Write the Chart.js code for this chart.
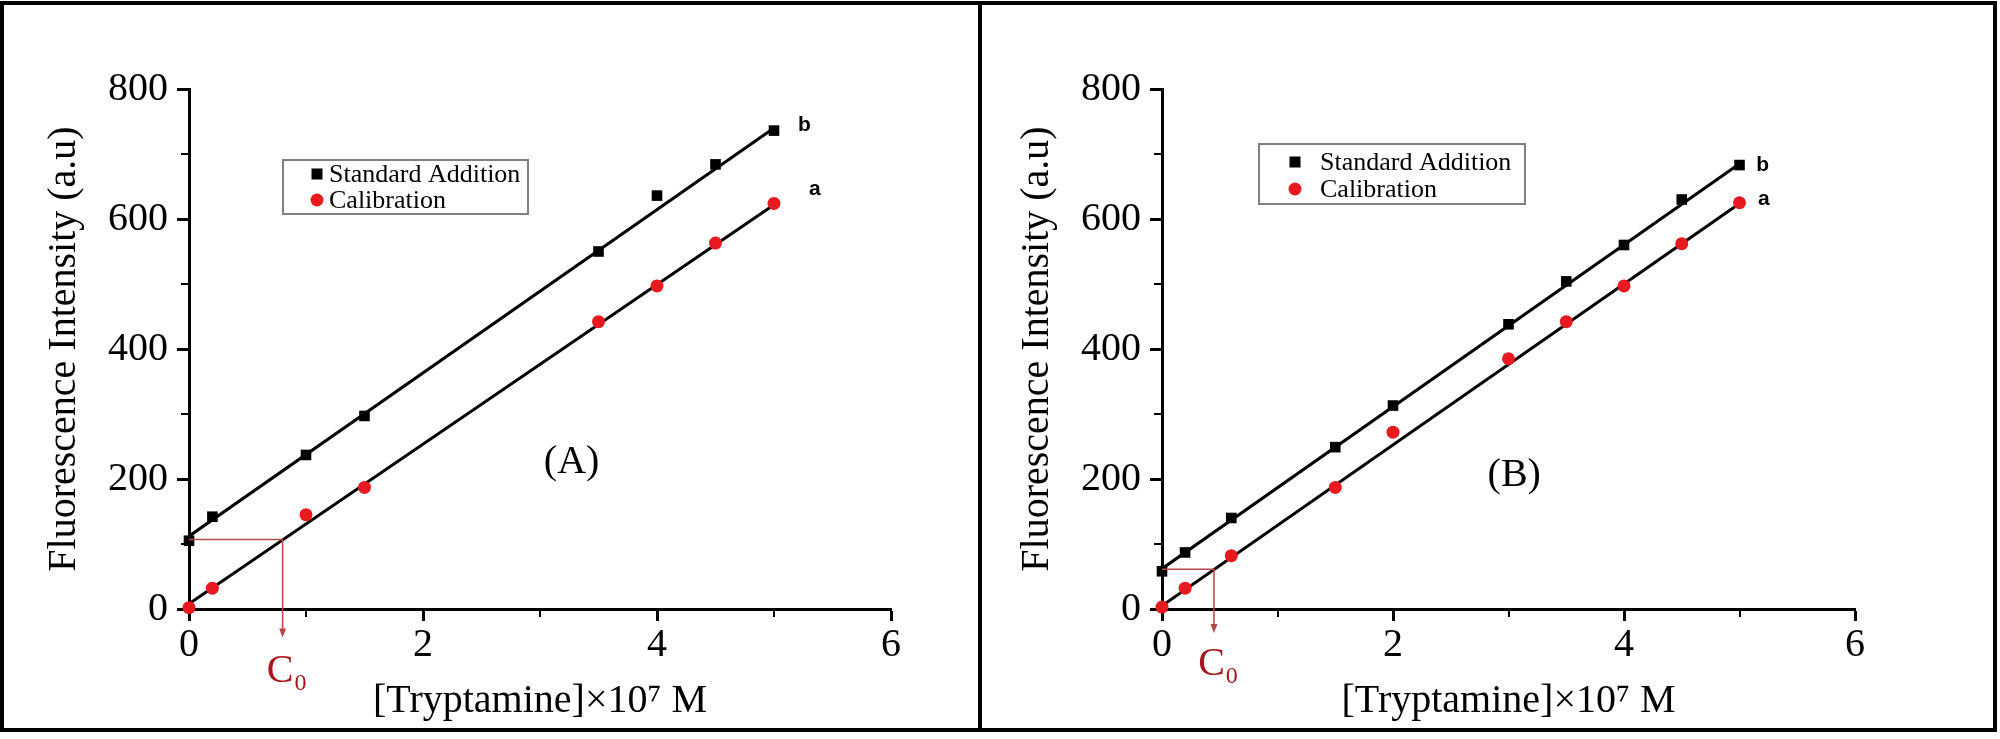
<!DOCTYPE html>
<html>
<head>
<meta charset="utf-8">
<script src="https://cdn.jsdelivr.net/npm/chart.js@4.4.1/dist/chart.umd.min.js"></script>
<style>
    html, body { margin: 0; padding: 0; background: #fff; }
    #page { position: relative; width: 2000px; height: 739px; overflow: hidden; background: #fff; }
    #frame { position: absolute; left: 0; top: 1px; width: 1997px; height: 731px; box-sizing: border-box; border: 4px solid #000; }
    #divider { position: absolute; left: 978px; top: 1px; width: 4px; height: 731px; background: #000; }
    canvas { position: absolute; }
    #chartA { left: 4px; top: 5px; }
    #chartB { left: 982px; top: 5px; }
</style>
</head>
<body>
<div id="page">
    <canvas id="chartA" width="974" height="723"></canvas>
    <canvas id="chartB" width="1011" height="723"></canvas>
    <div id="frame"></div>
    <div id="divider"></div>
</div>
<script>
// panel (A)
const concA = [0, 0.2, 1, 1.5, 3.5, 4, 4.5, 5];
const stdAddA = [105, 142, 237, 297, 550, 636, 684, 736];
const calibA = [2, 32, 145, 187, 442, 497, 563, 624];
const fitStdA = [112, 740];
const fitCalA = [8, 622];
const c0A = [0.8, 107];

// panel (B)
const concB = [0, 0.2, 0.6, 1.5, 2, 3, 3.5, 4, 4.5, 5];
const stdAddB = [58, 87, 140, 249, 313, 438, 504, 560, 630, 683];
const calibB = [3, 32, 82, 187, 272, 385, 442, 497, 562, 625];
const fitStdB = [62, 685];
const fitCalB = [5, 624];
const c0B = [0.45, 61];

// fitted lines run over this range
const fitX = [0, 5];

const xMajorTicks = [0, 2, 4, 6];
const xMinorTicks = [1, 3, 5];
const yMajorTicks = [0, 200, 400, 600, 800];
const yMinorTicks = [100, 300, 500, 700];

const serif = "'Liberation Serif', 'Times New Roman', serif";
const sans = "'Liberation Sans', Arial, sans-serif";
const red = '#e8191f';
const guideRed = '#b3474a';

function toPoints(xs, ys) {
    return xs.map((v, i) => ({ x: v, y: ys[i] }));
}

// minor ticks, C0 guide, curve labels, panel label and the legend box
const decorPlugin = {
    id: 'decor',
    afterDraw(chart, args, o) {
        const { ctx, chartArea: area } = chart;
        const x = chart.scales.x;
        const y = chart.scales.y;
        ctx.save();

        ctx.strokeStyle = '#000';
        ctx.lineWidth = 2;
        xMinorTicks.forEach(v => {
            const px = Math.round(x.getPixelForValue(v));
            ctx.beginPath();
            ctx.moveTo(px, area.bottom);
            ctx.lineTo(px, area.bottom + 8);
            ctx.stroke();
        });
        yMinorTicks.forEach(v => {
            const py = Math.round(y.getPixelForValue(v));
            ctx.beginPath();
            ctx.moveTo(area.left, py);
            ctx.lineTo(area.left - 8, py);
            ctx.stroke();
        });

        // C0 guide
        const cx = x.getPixelForValue(o.c0[0]);
        const cy = y.getPixelForValue(o.c0[1]);
        const tip = y.getPixelForValue(o.arrowTip);
        ctx.strokeStyle = guideRed;
        ctx.lineWidth = 1.5;
        ctx.beginPath();
        ctx.moveTo(x.getPixelForValue(0), cy);
        ctx.lineTo(cx, cy);
        ctx.lineTo(cx, tip - 6);
        ctx.stroke();
        ctx.fillStyle = guideRed;
        ctx.beginPath();
        ctx.moveTo(cx - 3.5, tip - 9);
        ctx.lineTo(cx + 3.5, tip - 9);
        ctx.lineTo(cx, tip);
        ctx.closePath();
        ctx.fill();

        ctx.fillStyle = '#a8161b';
        ctx.textBaseline = 'alphabetic';
        ctx.textAlign = 'left';
        ctx.font = `40px ${serif}`;
        const cw = ctx.measureText('C').width;
        ctx.font = `24px ${serif}`;
        const sw = ctx.measureText('0').width;
        const left = cx + 4 - (cw + sw + 1) / 2;
        const base = y.getPixelForValue(o.c0LabelY);
        ctx.font = `40px ${serif}`;
        ctx.fillText('C', left, base);
        ctx.font = `24px ${serif}`;
        ctx.fillText('0', left + cw + 1, base + 8);

        // curve labels
        ctx.fillStyle = '#000';
        ctx.font = `bold 21px ${sans}`;
        ctx.textAlign = 'center';
        ctx.textBaseline = 'middle';
        o.curveLabels.forEach(l => {
            ctx.fillText(l.text, x.getPixelForValue(l.at[0]), y.getPixelForValue(l.at[1]));
        });

        // panel label
        ctx.font = `40px ${serif}`;
        ctx.fillText(o.panel.text, x.getPixelForValue(o.panel.at[0]), y.getPixelForValue(o.panel.at[1]));

        // legend
        const lg = o.legend;
        const bx = area.left + lg.left;
        const by = area.top + lg.top;
        ctx.fillStyle = '#fff';
        ctx.fillRect(bx, by, lg.width, lg.height);
        ctx.strokeStyle = '#808080';
        ctx.lineWidth = 2;
        ctx.strokeRect(bx, by, lg.width, lg.height);
        ctx.font = `26px ${serif}`;
        ctx.textAlign = 'left';
        ctx.textBaseline = 'middle';
        chart.data.datasets.slice(0, 2).forEach((ds, i) => {
            const ry = by + lg.rows[i];
            const mx = bx + lg.markerX;
            ctx.fillStyle = ds.backgroundColor;
            if (ds.pointStyle === 'rect') {
                ctx.fillRect(mx - 5.5, ry - 5.5, 11, 11);
            } else {
                ctx.beginPath();
                ctx.arc(mx, ry, 6.5, 0, Math.PI * 2);
                ctx.fill();
            }
            ctx.fillStyle = '#000';
            ctx.fillText(ds.label, bx + lg.textX, ry + 1);
        });

        ctx.restore();
    }
};

function makeChart(id, p) {
    const ctx = document.getElementById(id).getContext('2d');
    return new Chart(ctx, {
        type: 'scatter',
        data: {
            datasets: [{
                label: 'Standard Addition',
                data: toPoints(p.conc, p.std),
                pointStyle: 'rect',
                pointRadius: 7.5,
                backgroundColor: '#000',
                borderColor: '#000',
                borderWidth: 0,
                showLine: false,
                clip: false
            }, {
                label: 'Calibration',
                data: toPoints(p.conc, p.cal),
                pointStyle: 'circle',
                pointRadius: 6.5,
                backgroundColor: red,
                borderColor: red,
                borderWidth: 0,
                showLine: false,
                clip: false
            }, {
                label: 'b',
                data: toPoints(fitX, p.fitStd),
                showLine: true,
                borderColor: '#000',
                borderWidth: 3,
                pointRadius: 0
            }, {
                label: 'a',
                data: toPoints(fitX, p.fitCal),
                showLine: true,
                borderColor: '#000',
                borderWidth: 3,
                pointRadius: 0
            }]
        },
        options: {
            responsive: false,
            animation: false,
            layout: { padding: { left: 0, top: 84, right: p.rightPad, bottom: 0 } },
            plugins: {
                legend: { display: false },
                tooltip: { enabled: false },
                decor: p.decor
            },
            scales: {
                x: {
                    type: 'linear',
                    min: 0,
                    max: 6,
                    afterBuildTicks: s => { s.ticks = xMajorTicks.map(v => ({ value: v })); },
                    afterFit: s => { s.height = 119; },
                    border: { color: '#000', width: 3 },
                    grid: { drawOnChartArea: false, tickLength: 12, tickWidth: 3, tickColor: '#000' },
                    ticks: { font: { family: serif, size: 40 }, color: '#000', padding: 0, maxRotation: 0 },
                    title: {
                        display: true,
                        text: '[Tryptamine]×10⁷ M',
                        font: { family: serif, size: 40 },
                        color: '#000',
                        padding: { top: 0, bottom: 3 }
                    }
                },
                y: {
                    type: 'linear',
                    min: 0,
                    max: 800,
                    afterBuildTicks: s => { s.ticks = yMajorTicks.map(v => ({ value: v })); },
                    afterFit: s => { s.width = p.yWidth; },
                    border: { color: '#000', width: 3 },
                    grid: { drawOnChartArea: false, tickLength: 12, tickWidth: 3, tickColor: '#000' },
                    ticks: { font: { family: serif, size: 40 }, color: '#000', padding: 9 },
                    title: {
                        display: true,
                        text: 'Fluorescence Intensity (a.u)',
                        font: { family: serif, size: 40 },
                        color: '#000',
                        padding: { top: p.yTitlePad, bottom: 0 }
                    }
                }
            }
        },
        plugins: [decorPlugin]
    });
}

makeChart('chartA', {
    conc: concA, std: stdAddA, cal: calibA, fitStd: fitStdA, fitCal: fitCalA,
    yWidth: 185, rightPad: 87, yTitlePad: 36,
    decor: {
        c0: c0A, arrowTip: -44, c0LabelY: -112,
        curveLabels: [{ text: 'b', at: [5.26, 745] }, { text: 'a', at: [5.35, 646] }],
        panel: { text: '(A)', at: [3.27, 225] },
        legend: { left: 94, top: 71, width: 245, height: 54, markerX: 34, textX: 46, rows: [14, 40] }
    }
});

makeChart('chartB', {
    conc: concB, std: stdAddB, cal: calibB, fitStd: fitStdB, fitCal: fitCalB,
    yWidth: 180, rightPad: 138, yTitlePad: 31,
    decor: {
        c0: c0B, arrowTip: -37, c0LabelY: -101,
        curveLabels: [{ text: 'b', at: [5.2, 683] }, { text: 'a', at: [5.21, 630] }],
        panel: { text: '(B)', at: [3.05, 205] },
        legend: { left: 97, top: 55, width: 266, height: 60, markerX: 36, textX: 61, rows: [18, 45] }
    }
});
</script>
</body>
</html>
